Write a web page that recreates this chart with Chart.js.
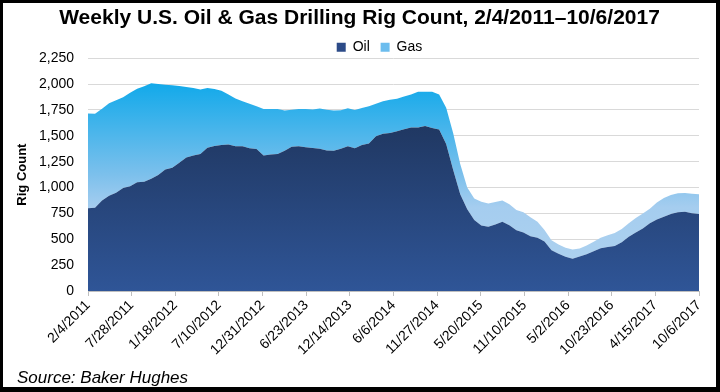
<!DOCTYPE html>
<html>
<head>
<meta charset="utf-8">
<script src="https://cdn.jsdelivr.net/npm/chart.js@4.4.1/dist/chart.umd.min.js"></script>
<style>
  html, body { margin: 0; padding: 0; background: #fff; }
  #wrap { position: relative; width: 720px; height: 392px; overflow: hidden; }
  #c { position: absolute; left: 0; top: 0; }
  #frame { position: absolute; left: 0; top: 0; width: 720px; height: 392px; box-sizing: border-box;
           border: 3px solid #000; border-right-width: 4px; border-bottom-width: 5px; pointer-events: none; }
  #source { position: absolute; left: 17px; top: 368px; font: italic 17px 'Liberation Sans', Arial, sans-serif; color: #000; line-height: 20px; }
</style>
</head>
<body>
<div id="wrap">
  <canvas id="c" width="720" height="392"></canvas>
  <div id="source">Source: Baker Hughes</div>
  <div id="frame"></div>
</div>
<script>
// Sampling: every 4th weekly report, starting 2/4/2011 (day 0) through 10/6/2017 (day 2436)
const START_DATE = Date.UTC(2011, 1, 4);
const SAMPLE_STEP_DAYS = 28;
const X_TICK_STEP_DAYS = 174;
const X_TICK_COUNT = 15;

// Oil rigs
const oil = [800, 805, 875, 920, 950, 995, 1013, 1050, 1057, 1084,
  1122, 1175, 1190, 1240, 1290, 1310, 1325, 1385, 1402, 1412,
  1415, 1398, 1398, 1380, 1373, 1310, 1320, 1325, 1355, 1395,
  1398, 1390, 1382, 1375, 1357, 1355, 1375, 1398, 1380, 1412,
  1425, 1495, 1520, 1527, 1545, 1563, 1580, 1580, 1595, 1575,
  1560, 1420, 1170, 935, 790, 687, 632, 620, 642, 670,
  635, 588, 565, 528, 515, 478, 395, 360, 330, 312,
  333, 355, 385, 412, 425, 435, 470, 525, 565, 605,
  655, 690, 718, 745, 762, 765, 752, 743];

// Gas rigs (stacked on top of oil)
const gas = [916, 907, 887, 895, 893, 877, 902, 905, 921, 924,
  878, 818, 798, 742, 682, 652, 623, 577, 550, 523,
  485, 462, 437, 430, 412, 449, 439, 434, 390, 357,
  361, 368, 373, 390, 395, 390, 373, 368, 370, 356,
  361, 315, 315, 322, 313, 317, 320, 346, 331, 351,
  340, 350, 355, 293, 210, 206, 230, 226, 218, 204,
  203, 194, 195, 184, 155, 112, 95, 90, 88, 88,
  77, 85, 90, 103, 115, 125, 130, 130, 140, 145,
  140, 165, 182, 183, 183, 183, 188, 192];

const seriesNames = ['Oil', 'Gas'];
const yTicks = [0, 250, 500, 750, 1000, 1250, 1500, 1750, 2000, 2250];

const dayOf = i => i * SAMPLE_STEP_DAYS;
const fmtDate = d => {
  const dt = new Date(START_DATE + d * 86400000);
  return (dt.getUTCMonth() + 1) + '/' + dt.getUTCDate() + '/' + dt.getUTCFullYear();
};

Chart.defaults.font.family = "'Liberation Sans', Arial, sans-serif";
Chart.defaults.color = '#000';

function oilGradient(context) {
  const chart = context.chart;
  const area = chart.chartArea;
  if (!area) return '#2a4a85';
  const g = chart.ctx.createLinearGradient(0, area.top, 0, area.bottom);
  g.addColorStop(0, '#1c3058');
  g.addColorStop(0.25, '#1f365f');
  g.addColorStop(1, '#2f5597');
  return g;
}
function gasGradient(context) {
  const chart = context.chart;
  const area = chart.chartArea;
  if (!area) return '#5cb8ec';
  const g = chart.ctx.createLinearGradient(0, area.top, 0, area.bottom);
  g.addColorStop(0, '#0aa5e9');
  g.addColorStop(0.12, '#15aaea');
  g.addColorStop(0.5, '#7cc0ec');
  g.addColorStop(0.64, '#a5cdef');
  g.addColorStop(1, '#b0d3ef');
  return g;
}

// fix the legend block height and shift title/legend to where the reference places them
const headerShift = {
  id: 'headerShift',
  beforeLayout(chart) {
    const lg = chart.legend;
    if (lg && !lg._fixedFit) {
      const orig = lg.fit.bind(lg);
      lg.fit = function () { orig(); this.height = 21; };
      lg._fixedFit = true;
    }
  },
  afterLayout(chart) {
    if (chart.titleBlock) { chart.titleBlock.left += 10; chart.titleBlock.right += 10; }
    if (chart.legend) {
      chart.legend.left += 30; chart.legend.right += 30;
    }
  }
};

new Chart(document.getElementById('c'), {
  type: 'line',
  data: {
    datasets: [
      {
        label: seriesNames[0],
        data: oil.map((v, i) => ({ x: dayOf(i), y: v })),
        backgroundColor: oilGradient,
        borderWidth: 0,
        pointRadius: 0,
        fill: 'origin',
        tension: 0
      },
      {
        label: seriesNames[1],
        data: gas.map((v, i) => ({ x: dayOf(i), y: v })),
        backgroundColor: gasGradient,
        borderWidth: 0,
        pointRadius: 0,
        fill: '-1',
        tension: 0
      }
    ]
  },
  plugins: [headerShift],
  options: {
    responsive: false,
    animation: false,
    layout: { padding: { left: 0, right: 21, top: 0, bottom: 0 } },
    plugins: {
      title: {
        display: true,
        text: 'Weekly U.S. Oil & Gas Drilling Rig Count, 2/4/2011\u201310/6/2017',
        font: { size: 21, weight: 'bold' },
        color: '#000',
        padding: { top: 6, bottom: 6 }
      },
      legend: {
        display: true,
        position: 'top',
        labels: {
          boxWidth: 9,
          boxHeight: 9,
          padding: 3,
          font: { size: 14 },
          color: '#000',
          generateLabels: () => [
            { text: seriesNames[0] + '  ', fillStyle: '#2c4b88', strokeStyle: '#2c4b88', lineWidth: 0, datasetIndex: 0 },
            { text: seriesNames[1], fillStyle: '#6cbdee', strokeStyle: '#6cbdee', lineWidth: 0, datasetIndex: 1 }
          ]
        }
      },
      tooltip: { enabled: false }
    },
    scales: {
      x: {
        type: 'linear',
        min: 0,
        max: X_TICK_STEP_DAYS * (X_TICK_COUNT - 1),
        afterBuildTicks: scale => {
          scale.ticks = Array.from({ length: X_TICK_COUNT }, (_, k) => ({ value: k * X_TICK_STEP_DAYS }));
        },
        afterFit: scale => { scale.height = 101; },
        ticks: {
          autoSkip: false,
          maxRotation: 45,
          minRotation: 45,
          padding: 1,
          font: { size: 14 },
          color: '#000',
          callback: v => fmtDate(v)
        },
        grid: { drawOnChartArea: false, drawTicks: true, tickLength: 5, color: '#bfbfbf' },
        border: { display: true, color: '#bfbfbf' }
      },
      y: {
        stacked: true,
        min: yTicks[0],
        max: yTicks[yTicks.length - 1],
        afterBuildTicks: scale => { scale.ticks = yTicks.map(v => ({ value: v })); },
        afterFit: scale => { scale.width = 88; },
        ticks: {
          padding: 14,
          font: { size: 14 },
          color: '#000',
          callback: v => Number(v).toLocaleString('en-US')
        },
        grid: { color: '#d9d9d9', drawTicks: false, lineWidth: 1 },
        border: { display: false },
        title: {
          display: true,
          text: 'Rig Count',
          font: { size: 13, weight: 'bold' },
          color: '#000',
          padding: { top: 15, bottom: 0 }
        }
      }
    }
  }
});
</script>
</body>
</html>
